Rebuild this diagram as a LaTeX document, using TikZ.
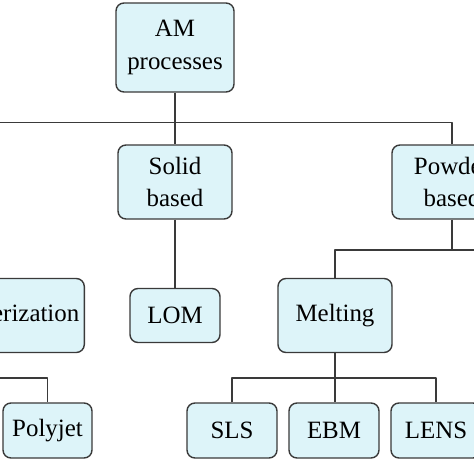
\documentclass[tikz,border=0pt]{standalone}
\usepackage{fontspec}
\setmainfont{Liberation Serif}
\definecolor{boxfill}{RGB}{221,244,249}
\definecolor{boxline}{RGB}{58,58,58}

\begin{document}
\begin{tikzpicture}[line join=bevel,
  box/.style={draw=boxline,fill=boxfill,line width=1.4bp,rounded corners=8bp,
    inner sep=0pt,align=center,font=\fontsize{25}{33}\selectfont},
  link/.style={draw=boxline,line width=1.4bp},
]
%%
\useasboundingbox (0,0) rectangle (474bp,-474bp);
\clip (0,0) rectangle (474bp,-474bp);
\fill [white] (0,0) rectangle (474bp,-474bp);
\node (am) at (175bp,-47.5bp) [box,minimum width=118bp,minimum height=89bp] {AM\\processes};
  \node (solid) at (175bp,-182bp) [box,minimum width=114bp,minimum height=74bp] {Solid\\based};
  \node (powder) at (452bp,-182bp) [box,minimum width=120bp,minimum height=74bp] {Powder\\based};
  \node (polym) at (85bp,-315.5bp) [box,anchor=east,minimum height=74bp,inner xsep=5bp] {Photopolymerization};
  \node (lom) at (175bp,-315.5bp) [box,minimum width=90bp,minimum height=54bp] {LOM};
  \node (melting) at (335bp,-315.5bp) [box,minimum width=114bp,minimum height=74bp] {Melting};
  \node (polyjet) at (47.5bp,-430.5bp) [box,minimum width=89bp,minimum height=55bp] {Polyjet};
  \node (sls) at (232bp,-430.5bp) [box,minimum width=90bp,minimum height=55bp] {SLS};
  \node (ebm) at (334bp,-430.5bp) [box,minimum width=90bp,minimum height=55bp] {EBM};
  \node (lens) at (436bp,-430.5bp) [box,minimum width=90bp,minimum height=55bp] {LENS};
  \coordinate (rootbus) at (-20bp,-122.5bp);
  \coordinate (powderbus) at (500bp,-250bp);
  \coordinate (meltbus) at (335bp,-378bp);
  \coordinate (polybus) at (-20bp,-378bp);
  \draw [link] (am) -- (solid);
  \draw [link] (rootbus) -| (powder);
  \draw [link] (solid) -- (lom);
  \draw [link] (powder.south) -- (powder.south |- powderbus);
  \draw [link] (melting.north) |- (powderbus);
  \draw [link] (melting.south) -- (meltbus);
  \draw [link] (sls.north) |- (meltbus) -| (lens.north);
  \draw [link] (meltbus) -- (ebm.north -| meltbus);
  \draw [link] (polybus) -| (polyjet);
%
\end{tikzpicture}
\end{document}
